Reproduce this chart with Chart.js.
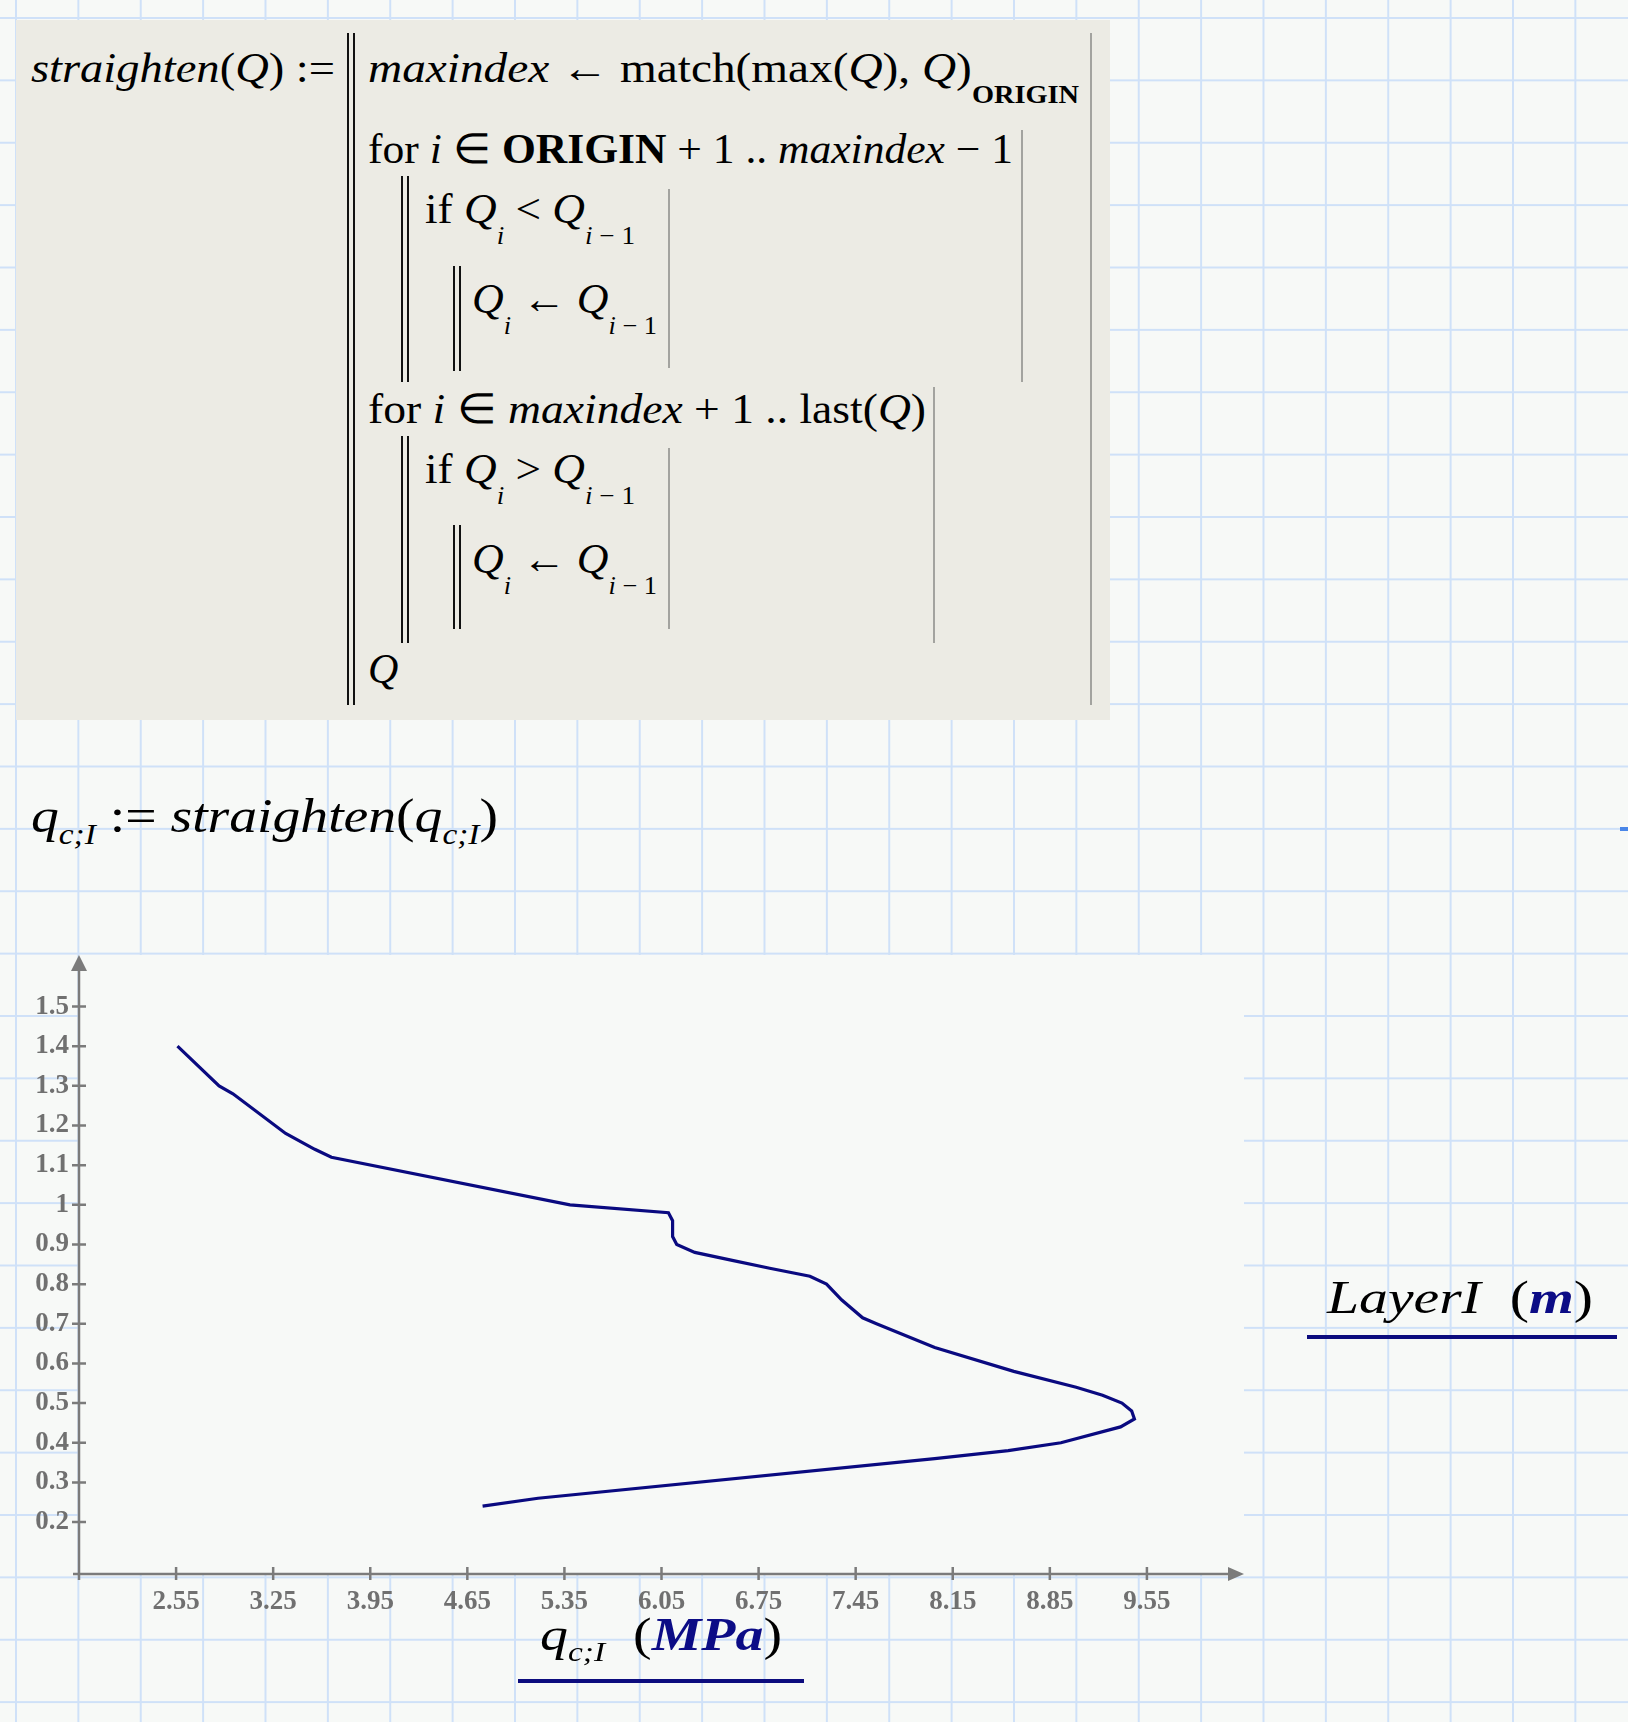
<!DOCTYPE html>
<html>
<head>
<meta charset="utf-8">
<script src="https://cdn.jsdelivr.net/npm/chart.js@4.4.1/dist/chart.umd.min.js"></script>
<style>
body { margin:0; width:1628px; height:1722px; overflow:hidden; position:relative;
  background-color:#f7f9f7;
  background-image: linear-gradient(to right, #cfe1f8 2px, transparent 2px), linear-gradient(to bottom, #cfe1f8 2px, transparent 2px);
  background-size: 62.38px 62.38px; background-position: 15px 17px;
  font-family: "Liberation Serif", serif; color:#000; }
.t { position:absolute; white-space:nowrap; line-height:1; transform-origin:0 0; }
.sub { font-size:0.6em; position:relative; top:0.85em; }
.sub2 { font-size:0.6em; position:relative; top:0.4em; }
.bar { position:absolute; width:2px; background:#111; }
.thin { position:absolute; width:2px; background:#a3a39f; }
#box { position:absolute; left:16px; top:20px; width:1094px; height:700px; background:#ecebe4; }
#wrap { position:absolute; left:0; top:900px; width:1300px; height:740px; }
.ul { position:absolute; height:4px; background:#0c0c7e; }
.blue { color:#0c0c86; }
</style>
</head>
<body>
<div id="box"></div>

<div class="t" style="left:31px;top:47px;font-size:42px" data-w="304"><i>straighten</i>(<i>Q</i>) :=</div>
<div class="bar" style="left:347px;top:33px;height:672px"></div>
<div class="bar" style="left:353px;top:33px;height:672px"></div>
<div class="thin" style="left:1090px;top:33px;height:672px"></div>

<div class="t" style="left:368px;top:47px;font-size:42px" data-w="711"><i>maxindex</i> ← match(max(<i>Q</i>), <i>Q</i>)<span class="sub"><b>ORIGIN</b></span></div>
<div class="t" style="left:368px;top:128px;font-size:42px" data-w="645">for <i>i</i> ∈ <b>ORIGIN</b> + 1 .. <i>maxindex</i> − 1</div>
<div class="thin" style="left:1021px;top:130px;height:252px"></div>
<div class="bar" style="left:401px;top:176px;height:206px"></div>
<div class="bar" style="left:407px;top:176px;height:206px"></div>
<div class="t" style="left:425px;top:188px;font-size:42px" data-w="210">if <i>Q</i><span class="sub"><i>i</i></span> &lt; <i>Q</i><span class="sub"><i>i</i> − 1</span></div>
<div class="thin" style="left:668px;top:189px;height:179px"></div>
<div class="bar" style="left:453px;top:266px;height:105px"></div>
<div class="bar" style="left:459px;top:266px;height:105px"></div>
<div class="t" style="left:472px;top:278px;font-size:42px" data-w="185"><i>Q</i><span class="sub"><i>i</i></span> ← <i>Q</i><span class="sub"><i>i</i> − 1</span></div>

<div class="t" style="left:368px;top:388px;font-size:42px" data-w="558">for <i>i</i> ∈ <i>maxindex</i> + 1 .. last(<i>Q</i>)</div>
<div class="thin" style="left:933px;top:387px;height:256px"></div>
<div class="bar" style="left:401px;top:436px;height:207px"></div>
<div class="bar" style="left:407px;top:436px;height:207px"></div>
<div class="t" style="left:425px;top:448px;font-size:42px" data-w="210">if <i>Q</i><span class="sub"><i>i</i></span> &gt; <i>Q</i><span class="sub"><i>i</i> − 1</span></div>
<div class="thin" style="left:668px;top:448px;height:181px"></div>
<div class="bar" style="left:453px;top:525px;height:104px"></div>
<div class="bar" style="left:459px;top:525px;height:104px"></div>
<div class="t" style="left:472px;top:538px;font-size:42px" data-w="185"><i>Q</i><span class="sub"><i>i</i></span> ← <i>Q</i><span class="sub"><i>i</i> − 1</span></div>
<div class="t" style="left:368px;top:648px;font-size:42px"><i>Q</i></div>

<div class="t" style="left:31px;top:792px;font-size:48px" data-w="467"><i>q</i><span class="sub2"><i>c;I</i></span> := <i>straighten</i>(<i>q</i><span class="sub2"><i>c;I</i></span>)</div>
<div style="position:absolute;left:1620px;top:827px;width:8px;height:4px;background:#4a86e8"></div>

<div id="wrap"><canvas id="qcChart"></canvas></div>

<div class="t" style="left:1327px;top:1275px;font-size:46px" data-w="266"><i>LayerI</i>&nbsp;&nbsp;(<b class="blue"><i>m</i></b>)</div>
<div class="ul" style="left:1307px;top:1335px;width:310px"></div>
<div class="t" style="left:540px;top:1612px;font-size:46px" data-w="242"><i>q</i><span class="sub2"><i>c;I</i></span>&nbsp;&nbsp;(<b class="blue"><i>MPa</i></b>)</div>
<div class="ul" style="left:518px;top:1679px;width:286px"></div>

<script>
var xTicks = [2.55, 3.25, 3.95, 4.65, 5.35, 6.05, 6.75, 7.45, 8.15, 8.85, 9.55];
var yTicks = [0.2, 0.3, 0.4, 0.5, 0.6, 0.7, 0.8, 0.9, 1.0, 1.1, 1.2, 1.3, 1.4, 1.5];

// layer depth (m) and straightened cone resistance (MPa)
var layerDepth = [0.24, 0.26, 0.36, 0.38, 0.40, 0.44, 0.46, 0.48, 0.50, 0.52, 0.54, 0.58,
    0.64, 0.70, 0.715, 0.76, 0.80, 0.82, 0.84, 0.86, 0.88, 0.90, 0.92, 0.96, 0.98, 1.00,
    1.12, 1.14, 1.18, 1.28, 1.30, 1.40];
var qcValues = [4.76, 5.16, 8.02, 8.55, 8.93, 9.36, 9.46, 9.44, 9.37, 9.23, 9.04, 8.59,
    8.02, 7.60, 7.50, 7.35, 7.24, 7.12, 6.83, 6.56, 6.29, 6.16, 6.13, 6.13, 6.10, 5.39,
    3.67, 3.55, 3.34, 2.96, 2.86, 2.56];

document.querySelectorAll('[data-w]').forEach(function (el) {
    var w = parseFloat(el.dataset.w);
    el.style.transform = 'scaleX(' + (w / el.getBoundingClientRect().width) + ')';
});

var mathcadAxes = {
    id: 'mathcadAxes',
    beforeDraw: function (chart) {
        var a = chart.chartArea, ctx = chart.ctx;
        ctx.save();
        ctx.fillStyle = '#f7f9f7';
        ctx.fillRect(a.left, a.top, a.right - a.left, a.bottom - a.top);
        ctx.restore();
    },
    afterDraw: function (chart) {
        var a = chart.chartArea, ctx = chart.ctx;
        var xs = chart.scales.x, ys = chart.scales.y;
        ctx.save();
        ctx.strokeStyle = '#7b7b7b';
        ctx.fillStyle = '#7b7b7b';
        ctx.lineWidth = 2.5;
        ctx.beginPath();
        ctx.moveTo(a.left - 6, a.bottom);
        ctx.lineTo(a.right - 14, a.bottom);
        ctx.moveTo(a.left, a.bottom + 6);
        ctx.lineTo(a.left, a.top + 14);
        xTicks.forEach(function (v) {
            var px = xs.getPixelForValue(v);
            ctx.moveTo(px, a.bottom - 7);
            ctx.lineTo(px, a.bottom + 6);
        });
        yTicks.forEach(function (v) {
            var py = ys.getPixelForValue(v);
            ctx.moveTo(a.left - 7, py);
            ctx.lineTo(a.left + 7, py);
        });
        ctx.stroke();
        ctx.beginPath();
        ctx.moveTo(a.right, a.bottom);
        ctx.lineTo(a.right - 16, a.bottom - 7);
        ctx.lineTo(a.right - 16, a.bottom + 7);
        ctx.closePath();
        ctx.moveTo(a.left, a.top);
        ctx.lineTo(a.left - 8, a.top + 16);
        ctx.lineTo(a.left + 8, a.top + 16);
        ctx.closePath();
        ctx.fill();
        ctx.restore();
    }
};

var tickFont = { family: 'Liberation Serif', size: 27, weight: 'bold' };

new Chart(document.getElementById('qcChart'), {
    type: 'scatter',
    data: {
        datasets: [{
            data: layerDepth.map(function (d, i) { return { x: qcValues[i], y: d }; }),
            showLine: true,
            borderColor: '#0a0a80',
            borderWidth: 3.2,
            pointRadius: 0,
            tension: 0
        }]
    },
    options: {
        responsive: true,
        maintainAspectRatio: false,
        animation: false,
        layout: { padding: { top: 55, right: 56, left: 0, bottom: 0 } },
        plugins: { legend: { display: false }, tooltip: { enabled: false } },
        scales: {
            x: {
                type: 'linear',
                min: 1.85,
                max: 10.25,
                grid: { display: false, drawTicks: false },
                border: { display: false },
                ticks: {
                    color: '#707070', font: tickFont, padding: 12, maxRotation: 0, autoSkip: false,
                    callback: function (v) { return v.toFixed(2); }
                },
                afterBuildTicks: function (s) { s.ticks = xTicks.map(function (v) { return { value: v }; }); },
                afterFit: function (s) { s.height = 66; }
            },
            y: {
                type: 'linear',
                min: 0.069,
                max: 1.63,
                grid: { display: false, drawTicks: false },
                border: { display: false },
                ticks: {
                    color: '#707070', font: tickFont, padding: 10, autoSkip: false,
                    callback: function (v) { return String(parseFloat(v.toFixed(1))); }
                },
                afterBuildTicks: function (s) { s.ticks = yTicks.map(function (v) { return { value: v }; }); },
                afterFit: function (s) { s.width = 79; }
            }
        }
    },
    plugins: [mathcadAxes]
});
</script>
</body>
</html>
